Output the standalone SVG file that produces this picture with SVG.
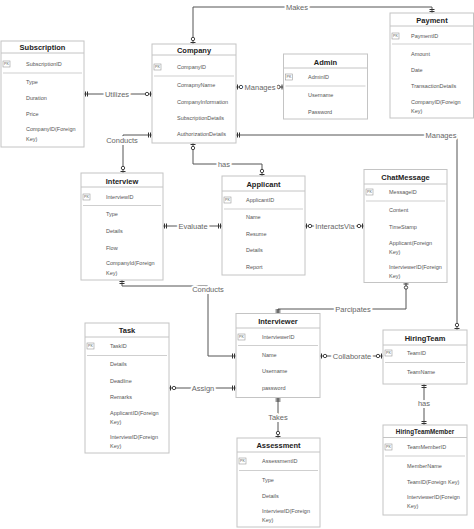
<svg xmlns="http://www.w3.org/2000/svg" width="474" height="529" viewBox="0 0 474 529">
<defs>
<style>
.box{fill:#fff;stroke:#c4c4c4;stroke-width:1}
.hd{stroke:#c4c4c4;stroke-width:1}
.sep{stroke:#cfcfcf;stroke-width:1}
.title{font-family:"Liberation Sans",Arial,sans-serif;font-size:7.5px;font-weight:bold;fill:#222;text-anchor:middle}
.attr{font-family:"Liberation Sans",Arial,sans-serif;font-size:5.5px;fill:#555}
.pk{fill:#fff;stroke:#999;stroke-width:0.6}
.pkt{font-family:"Liberation Sans",Arial,sans-serif;font-size:3.6px;fill:#555;text-anchor:middle}
.ln{fill:none;stroke:#555;stroke-width:1}
.lbl{font-family:"Liberation Sans",Arial,sans-serif;font-size:7.5px;fill:#666;text-anchor:middle;paint-order:stroke;stroke:#fff;stroke-width:4px;stroke-linejoin:round}
</style>
<marker id="zo" viewBox="-10 -4 10 8" refX="0" refY="0" markerWidth="10" markerHeight="8" markerUnits="userSpaceOnUse" orient="auto-start-reverse">
<line x1="-1.5" y1="-2.5" x2="-1.5" y2="2.5" stroke="#333" stroke-width="1"/>
<circle cx="-5" cy="0" r="1.7" fill="#fff" stroke="#333" stroke-width="0.9"/>
</marker>
<marker id="oo" viewBox="-10 -4 10 8" refX="0" refY="0" markerWidth="10" markerHeight="8" markerUnits="userSpaceOnUse" orient="auto-start-reverse">
<line x1="-1.5" y1="-2.5" x2="-1.5" y2="2.5" stroke="#333" stroke-width="1"/>
<line x1="-3.5" y1="-2.5" x2="-3.5" y2="2.5" stroke="#333" stroke-width="1"/>
</marker>
</defs>
<rect width="474" height="529" fill="#fff"/>

<g id="connectors">
<path id="makes" class="ln" d="M193,44 V7 H432 V13" marker-start="url(#zo)" marker-end="url(#oo)"/>
<path id="utilizes" class="ln" d="M84,94 H152" marker-start="url(#oo)" marker-end="url(#zo)"/>
<path id="manages1" class="ln" d="M236,87 H283.5" marker-start="url(#zo)" marker-end="url(#zo)"/>
<path id="conducts1" class="ln" d="M152,135 H123 V173" marker-start="url(#oo)" marker-end="url(#zo)"/>
<path id="manages2" class="ln" d="M236,135 H457 V330" marker-start="url(#oo)" marker-end="url(#zo)"/>
<path id="has1" class="ln" d="M193,143 V164 H262 V176" marker-start="url(#zo)" marker-end="url(#zo)"/>
<path id="evaluate" class="ln" d="M163,226 H222" marker-start="url(#oo)" marker-end="url(#oo)"/>
<path id="interacts" class="ln" d="M305,226 H364" marker-start="url(#zo)" marker-end="url(#zo)"/>
<path id="conducts2" class="ln" d="M122,280 V286 H208 V356 H236" marker-start="url(#oo)" marker-end="url(#oo)"/>
<path id="parcipates" class="ln" d="M406,282.5 V309 H278 V313.5" marker-start="url(#zo)" marker-end="url(#oo)"/>
<path id="collaborate" class="ln" d="M320,356 H383" marker-start="url(#zo)" marker-end="url(#zo)"/>
<path id="assign" class="ln" d="M169,388 H236" marker-start="url(#zo)" marker-end="url(#oo)"/>
<path id="takes" class="ln" d="M278,397.5 V438" marker-start="url(#oo)" marker-end="url(#zo)"/>
<path id="has2" class="ln" d="M424,384 V425" marker-start="url(#oo)" marker-end="url(#oo)"/>
<text class="lbl" x="297" y="9.5">Makes</text>
<text class="lbl" x="117" y="96.5">Utilizes</text>
<text class="lbl" x="260" y="89.5">Manages</text>
<text class="lbl" x="122" y="143">Conducts</text>
<text class="lbl" x="441" y="137.5">Manages</text>
<text class="lbl" x="224" y="166.5">has</text>
<text class="lbl" x="193" y="228.5">Evaluate</text>
<text class="lbl" x="335" y="228.5">InteractsVia</text>
<text class="lbl" x="208" y="291.5">Conducts</text>
<text class="lbl" x="353" y="311.5">Parcipates</text>
<text class="lbl" x="352" y="358.5">Collaborate</text>
<text class="lbl" x="203" y="390.5">Assign</text>
<text class="lbl" x="278" y="420">Takes</text>
<text class="lbl" x="424" y="406">has</text>
</g>

<g id="subscription">
<rect class="box" x="1" y="41" width="83" height="106"/>
<line class="hd" x1="1" y1="53" x2="84" y2="53"/>
<text class="title" x="42.5" y="50">Subscription</text>
<rect class="pk" x="3" y="61" width="7" height="6"/><text class="pkt" x="6.5" y="65.3">PK</text>
<text class="attr" x="26" y="66">SubscriptionID</text>
<line class="sep" x1="3" y1="73" x2="82" y2="73"/>
<text class="attr" x="26" y="84">Type</text>
<text class="attr" x="26" y="100">Duration</text>
<text class="attr" x="26" y="116">Price</text>
<text class="attr" x="26" y="131">CompanyID(Foreign</text>
<text class="attr" x="26" y="141">Key)</text>
</g>

<g id="company">
<rect class="box" x="152" y="44" width="84" height="99"/>
<line class="hd" x1="152" y1="55" x2="236" y2="55"/>
<text class="title" x="194" y="52.5">Company</text>
<rect class="pk" x="154" y="64" width="7" height="6"/><text class="pkt" x="157.5" y="68.3">PK</text>
<text class="attr" x="177" y="69">CompanyID</text>
<line class="sep" x1="154" y1="76" x2="234" y2="76"/>
<text class="attr" x="177" y="87">ComapnyName</text>
<text class="attr" x="177" y="104">CompanyInformation</text>
<text class="attr" x="177" y="120">SubscriptionDetails</text>
<text class="attr" x="177" y="136">AuthorizationDetails</text>
</g>

<g id="admin">
<rect class="box" x="283.5" y="54" width="84" height="65"/>
<line class="hd" x1="283.5" y1="68" x2="367.5" y2="68"/>
<text class="title" x="325.5" y="64.5">Admin</text>
<rect class="pk" x="285.5" y="74" width="7" height="6"/><text class="pkt" x="289" y="78.3">PK</text>
<text class="attr" x="308" y="79">AdminID</text>
<line class="sep" x1="285.5" y1="86" x2="365.5" y2="86"/>
<text class="attr" x="308" y="97">Username</text>
<text class="attr" x="308" y="114">Password</text>
</g>

<g id="payment">
<rect class="box" x="390" y="13" width="83.5" height="105"/>
<line class="hd" x1="390" y1="26" x2="473.5" y2="26"/>
<text class="title" x="432" y="23">Payment</text>
<rect class="pk" x="392" y="33" width="7" height="6"/><text class="pkt" x="395.5" y="37.3">PK</text>
<text class="attr" x="411" y="38">PaymentID</text>
<line class="sep" x1="392" y1="44" x2="471.5" y2="44"/>
<text class="attr" x="411" y="56">Amount</text>
<text class="attr" x="411" y="72">Date</text>
<text class="attr" x="411" y="88">TransactionDetails</text>
<text class="attr" x="411" y="104">CompanyID(Foreign</text>
<text class="attr" x="411" y="113">Key)</text>
</g>

<g id="interview">
<rect class="box" x="81" y="173" width="82" height="107"/>
<line class="hd" x1="81" y1="187" x2="163" y2="187"/>
<text class="title" x="122" y="183.5">Interview</text>
<rect class="pk" x="83" y="194" width="7" height="6"/><text class="pkt" x="86.5" y="198.3">PK</text>
<text class="attr" x="106" y="199">InterviewID</text>
<line class="sep" x1="83" y1="205.5" x2="161" y2="205.5"/>
<text class="attr" x="106" y="216">Type</text>
<text class="attr" x="106" y="233">Details</text>
<text class="attr" x="106" y="250">Flow</text>
<text class="attr" x="106" y="265">CompanyId(Foreign</text>
<text class="attr" x="106" y="275">Key)</text>
</g>

<g id="applicant">
<rect class="box" x="222" y="176" width="83" height="99"/>
<line class="hd" x1="222" y1="191" x2="305" y2="191"/>
<text class="title" x="263.5" y="187">Applicant</text>
<rect class="pk" x="224" y="197" width="7" height="6"/><text class="pkt" x="227.5" y="201.3">PK</text>
<text class="attr" x="246" y="202">ApplicantID</text>
<line class="sep" x1="224" y1="209" x2="303" y2="209"/>
<text class="attr" x="246" y="219">Name</text>
<text class="attr" x="246" y="236">Resume</text>
<text class="attr" x="246" y="252">Details</text>
<text class="attr" x="246" y="269">Report</text>
</g>

<g id="chatmessage">
<rect class="box" x="364" y="169.5" width="83" height="113"/>
<line class="hd" x1="364" y1="184" x2="447" y2="184"/>
<text class="title" x="405.5" y="180">ChatMessage</text>
<rect class="pk" x="366" y="189" width="7" height="6"/><text class="pkt" x="369.5" y="193.3">PK</text>
<text class="attr" x="389" y="194">MessageID</text>
<line class="sep" x1="366" y1="201" x2="445" y2="201"/>
<text class="attr" x="389" y="212">Content</text>
<text class="attr" x="389" y="229">TimeStamp</text>
<text class="attr" x="389" y="245">Applicant(Foreign</text>
<text class="attr" x="389" y="254">Key)</text>
<text class="attr" x="389" y="269">InterviewerID(Foreign</text>
<text class="attr" x="389" y="278">Key)</text>
</g>

<g id="interviewer">
<rect class="box" x="236" y="313.5" width="84" height="84"/>
<line class="hd" x1="236" y1="328" x2="320" y2="328"/>
<text class="title" x="278" y="324">Interviewer</text>
<rect class="pk" x="238" y="334" width="7" height="6"/><text class="pkt" x="241.5" y="338.3">PK</text>
<text class="attr" x="262" y="339">InterviewerID</text>
<line class="sep" x1="238" y1="345.5" x2="318" y2="345.5"/>
<text class="attr" x="262" y="357">Name</text>
<text class="attr" x="262" y="373">Username</text>
<text class="attr" x="262" y="390">password</text>
</g>

<g id="task">
<rect class="box" x="85" y="323" width="84" height="130"/>
<line class="hd" x1="85" y1="337" x2="169" y2="337"/>
<text class="title" x="127" y="333">Task</text>
<rect class="pk" x="87" y="343" width="7" height="6"/><text class="pkt" x="90.5" y="347.3">PK</text>
<text class="attr" x="110" y="348">TaskID</text>
<line class="sep" x1="87" y1="355.5" x2="167" y2="355.5"/>
<text class="attr" x="110" y="366">Details</text>
<text class="attr" x="110" y="383">Deadline</text>
<text class="attr" x="110" y="399">Remarks</text>
<text class="attr" x="110" y="415">ApplicantID(Foreign</text>
<text class="attr" x="110" y="424">Key)</text>
<text class="attr" x="110" y="439">InterviewID(Foreign</text>
<text class="attr" x="110" y="448">Key)</text>
</g>

<g id="hiringteam">
<rect class="box" x="383" y="330" width="84" height="54"/>
<line class="hd" x1="383" y1="345" x2="467" y2="345"/>
<text class="title" x="425" y="341">HiringTeam</text>
<rect class="pk" x="385" y="350" width="7" height="6"/><text class="pkt" x="388.5" y="354.3">PK</text>
<text class="attr" x="407" y="355">TeamID</text>
<line class="sep" x1="385" y1="362.5" x2="465" y2="362.5"/>
<text class="attr" x="407" y="374">TeamName</text>
</g>

<g id="hiringteammember">
<rect class="box" x="383" y="425" width="84" height="90"/>
<line class="hd" x1="383" y1="437.5" x2="467" y2="437.5"/>
<text class="title" x="425" y="434" style="font-size:6.3px">HiringTeamMember</text>
<rect class="pk" x="385" y="444" width="7" height="6"/><text class="pkt" x="388.5" y="448.3">PK</text>
<text class="attr" x="407" y="449">TeamMemberID</text>
<line class="sep" x1="385" y1="456" x2="465" y2="456"/>
<text class="attr" x="407" y="468">MemberName</text>
<text class="attr" x="407" y="484">TeamID(Foreign Key)</text>
<text class="attr" x="407" y="499">InterviewerID(Foreign</text>
<text class="attr" x="407" y="508">Key)</text>
</g>

<g id="assessment">
<rect class="box" x="237" y="438" width="83" height="89"/>
<line class="hd" x1="237" y1="452" x2="320" y2="452"/>
<text class="title" x="278.5" y="448">Assessment</text>
<rect class="pk" x="239" y="458" width="7" height="6"/><text class="pkt" x="242.5" y="462.3">PK</text>
<text class="attr" x="262" y="463">AssessmentID</text>
<line class="sep" x1="239" y1="470.5" x2="318" y2="470.5"/>
<text class="attr" x="262" y="482">Type</text>
<text class="attr" x="262" y="498">Details</text>
<text class="attr" x="262" y="513">InterviewID(Foreign</text>
<text class="attr" x="262" y="522">Key)</text>
</g>
</svg>
